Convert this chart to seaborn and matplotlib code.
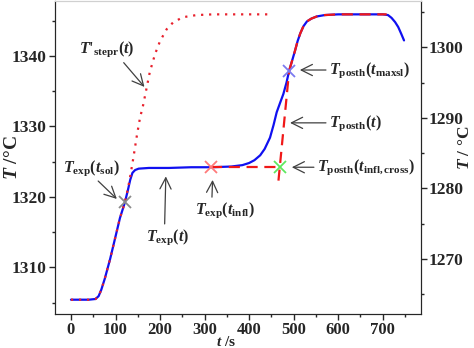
import matplotlib
matplotlib.use("Agg")
import matplotlib.pyplot as plt
from matplotlib.ticker import MultipleLocator
import seaborn as sns

# Measured temperature curve T_exp(t)
t_exp = [0, 20, 40, 55, 62, 68, 76, 88, 99, 110, 121, 128, 133, 138, 144, 152,
         175, 220, 270, 315, 360, 385, 400, 412, 425, 435, 447, 455, 462, 470,
         477, 484, 490, 497, 503, 509, 515, 522, 530, 540, 552, 570, 600, 650,
         700, 712, 720, 728, 735, 742, 748]
T_exp = [1305.4, 1305.4, 1305.4, 1305.5, 1305.9, 1306.8, 1308.4, 1311.2, 1314.1,
         1317.0, 1319.2, 1321.0, 1322.4, 1323.4, 1323.8, 1324.0, 1324.1, 1324.1,
         1324.2, 1324.2, 1324.3, 1324.5, 1324.8, 1325.2, 1325.9, 1326.8, 1328.4,
         1330.2, 1332.0, 1333.4, 1334.6, 1336.2, 1337.9, 1339.4, 1340.7, 1342.1,
         1343.2, 1344.2, 1344.9, 1345.3, 1345.6, 1345.8, 1345.9, 1345.9, 1345.9,
         1345.8, 1345.4, 1344.8, 1344.1, 1343.1, 1342.2]

# Stepwise reference curve T'_stepr(t)
t_stepr = [0, 20, 40, 55, 62, 68, 76, 88, 99, 110, 121, 128, 133, 140, 148, 155,
           162, 170, 177, 189, 200, 215, 230, 252, 282, 320, 400, 443]
T_stepr = [1305.4, 1305.4, 1305.4, 1305.5, 1305.9, 1306.8, 1308.4, 1311.2,
           1314.1, 1317.0, 1319.2, 1321.2, 1322.9, 1325.5, 1328.7, 1331.2,
           1333.0, 1335.5, 1337.7, 1340.3, 1342.1, 1343.8, 1344.8, 1345.5,
           1345.8, 1345.9, 1345.9, 1345.9]

# Posthumous construction T_posth(t)
t_plateau = [315, 469]
T_plateau = [1324.2, 1324.2]
t_tangent = [466, 490]
T_tangent = [1322.3, 1337.9]
t_posth = [490, 497, 503, 509, 515, 522, 530, 540, 552, 570, 600, 650, 700, 709]
T_posth = [1337.9, 1339.4, 1340.7, 1342.1, 1343.2, 1344.2, 1344.9, 1345.3,
           1345.6, 1345.8, 1345.9, 1345.9, 1345.9, 1345.9]

# Characteristic points
t_sol, T_sol = 121, 1319.2
t_infl, T_infl = 315, 1324.2
t_cross, T_cross = 469, 1324.2
t_maxsl, T_maxsl = 490, 1337.9

sns.set_style("ticks")
plt.rcParams["font.family"] = ["Liberation Serif", "DejaVu Serif"]
plt.rcParams["font.weight"] = "bold"
plt.rcParams["mathtext.fontset"] = "custom"
plt.rcParams["mathtext.rm"] = "Liberation Serif:bold"
plt.rcParams["mathtext.bf"] = "Liberation Serif:bold"
plt.rcParams["mathtext.it"] = "Liberation Serif:italic:bold"

fig = plt.figure(figsize=(4.74, 3.48), dpi=100)
ax = fig.add_axes([0.115, 0.0977, 0.774, 0.8983])

blue = "#1010f0"
red = "#f01818"

sns.lineplot(x=t_exp, y=T_exp, ax=ax, color=blue, lw=1.6, sort=False)
sns.lineplot(x=t_stepr, y=T_stepr, ax=ax, color="#e8202c", lw=1.6,
             linestyle=(0, (1, 2.6)), sort=False)
for xs, ys in [(t_plateau, T_plateau), (t_tangent, T_tangent), (t_posth, T_posth)]:
    sns.lineplot(x=xs, y=ys, ax=ax, color=red, lw=1.6,
                 linestyle=(0, (5, 3)), sort=False)

for (tx, ty, c) in [(t_sol, T_sol, "#8a8a8a"), (t_infl, T_infl, "#ff7a7a"),
                    (t_cross, T_cross, "#5ee85e"), (t_maxsl, T_maxsl, "#7a7af0")]:
    ax.plot([tx], [ty], marker="x", ms=8, mew=1.3, color=c, zorder=5)

tick_fs = 12.5
ax.set_xlim(-37, 787)
ax.set_ylim(1303.37, 1347.74)
ax.xaxis.set_major_locator(MultipleLocator(100))
ax.xaxis.set_minor_locator(MultipleLocator(50))
ax.yaxis.set_major_locator(MultipleLocator(10))
ax.yaxis.set_minor_locator(MultipleLocator(5))
ax.tick_params(which="both", direction="out", labelsize=tick_fs, width=1)
ax.tick_params(which="major", length=4, pad=2)
ax.tick_params(which="minor", length=2.5)
ax.tick_params(axis="x", which="major", labelsize=12, pad=1.5)
for lab in ax.get_xticklabels() + ax.get_yticklabels():
    lab.set_fontweight("bold")
ax.set_xlabel(r"$t$ /s", fontsize=11, fontweight="bold", va="bottom")
ax.xaxis.set_label_coords(0.468, -0.111)
ax.set_ylabel(r"$T$ /°C", fontsize=14, fontweight="bold")
ax.yaxis.set_label_coords(-0.092, 0.5)
ax.spines["top"].set_color("#d0d0d0")

ax2 = ax.twinx()
ax2.set_ylim(1262.17, 1306.54)
ax2.yaxis.set_major_locator(MultipleLocator(10))
ax2.yaxis.set_minor_locator(MultipleLocator(5))
ax2.tick_params(which="both", direction="out", labelsize=tick_fs, width=1)
ax2.tick_params(which="major", length=4, pad=1)
ax2.tick_params(which="minor", length=2.5)
for lab in ax2.get_yticklabels():
    lab.set_fontweight("bold")
ax2.set_ylabel(r"$T$ / °C", fontsize=12.5, fontweight="bold", va="center")
ax2.yaxis.set_label_coords(1.118, 0.53)
ax2.spines["top"].set_color("#d0d0d0")

arrow = dict(arrowstyle="->,head_length=0.7,head_width=0.35", color="#404040",
             lw=0.9, shrinkA=0, shrinkB=0)
fs = 11.5

ax.annotate(r"$T$'$_{\mathrm{stepr}}(t)$", xy=(165, 1335.6), xytext=(81, 1340.9),
            fontsize=fs, ha="center", va="center", arrowprops=dict(arrow, relpos=(0.75, 0.0)))
ax.annotate(r"$T_{\mathrm{exp}}(t_{\mathrm{sol}})$", xy=(103, 1319.7), xytext=(47, 1324.1),
            fontsize=fs, ha="center", va="center", arrowprops=dict(arrow, relpos=(0.55, 0.0)))
ax.annotate(r"$T_{\mathrm{exp}}(t)$", xy=(213, 1322.9), xytext=(218, 1314.3),
            fontsize=fs, ha="center", va="center", arrowprops=dict(arrow, relpos=(0.42, 1.0)))
ax.annotate(r"$T_{\mathrm{exp}}(t_{\mathrm{infl}})$", xy=(318, 1322.4), xytext=(346, 1318.1),
            fontsize=fs, ha="center", va="center", arrowprops=dict(arrow, relpos=(0.28, 1.0)))
ax.annotate(r"$T_{\mathrm{posth}}(t_{\mathrm{maxsl}})$", xy=(514, 1338.0), xytext=(580, 1338.0),
            fontsize=fs, ha="left", va="center", arrowprops=dict(arrow, relpos=(0.0, 0.5)))
ax.annotate(r"$T_{\mathrm{posth}}(t)$", xy=(492, 1330.5), xytext=(580, 1330.5),
            fontsize=fs, ha="left", va="center", arrowprops=dict(arrow, relpos=(0.0, 0.5)))
ax.annotate(r"$T_{\mathrm{posth}}(t_{\mathrm{infl,cross}})$", xy=(496, 1324.2), xytext=(553, 1324.2),
            fontsize=fs, ha="left", va="center", arrowprops=dict(arrow, relpos=(0.0, 0.5)))

fig.savefig("out.png", dpi=100)
